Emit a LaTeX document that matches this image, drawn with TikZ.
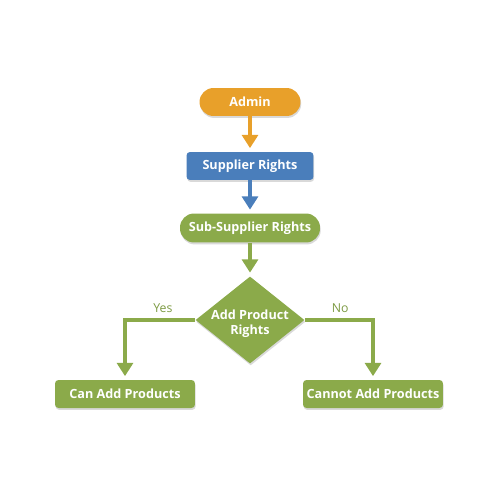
\documentclass[tikz,border=0pt]{standalone}
\usepackage{fontspec}
\setmainfont{Open Sans}
\usetikzlibrary{arrows.meta,shapes.geometric,shadows,positioning}
\definecolor{adminorange}{HTML}{E8A02A}
\definecolor{rightsblue}{HTML}{4A7EBB}
\definecolor{rightsgreen}{HTML}{8BAA4A}
\definecolor{labgreen}{HTML}{7C9A42}
\tikzset{box/.style={text=white, font=\fontsize{7.2}{8.5}\selectfont\bfseries, minimum height=.56cm, inner sep=0pt, drop shadow={shadow xshift=.4pt, shadow yshift=-1.1pt, fill=black!25, opacity=.6}},
  pill/.style={box, rounded corners=.28cm}, flat/.style={box, rounded corners=2pt},
  choice/.style={box, diamond, aspect=1.25, inner sep=-1pt, minimum width=2.18cm, minimum height=1.74cm, fill=rightsgreen},
  flow/.style={-{Triangle[length=7.5pt, width=9pt]}, line width=2pt, shorten >=2pt}, yn/.style={font=\fontsize{7}{8}\selectfont, text=labgreen}}
\begin{document}
\begin{tikzpicture}[x=.02cm, y=-.02cm]
\useasboundingbox (0,0) rectangle (500,500);
\node[pill, fill=adminorange, minimum width=2.02cm] (admin) at (250,102) {Admin};
\node[flat, fill=rightsblue, minimum width=2.54cm] (supplier) at (250,166) {Supplier Rights};
\node[pill, fill=rightsgreen, minimum width=2.8cm, minimum height=.58cm] (subsupplier) at (250,228) {Sub-Supplier Rights};
\node[choice] (addrights) at (250,320) {\raisebox{-2.4pt}[\height][\depth]{\begin{tabular}{@{}c@{}}Add Product\\Rights\end{tabular}}};
\node[flat, fill=rightsgreen, minimum width=2.8cm] (canadd) at (125,394) {Can Add Products};
\node[flat, fill=rightsgreen, minimum width=2.8cm] (cannotadd) at (373,394) {Cannot Add Products};
\draw[flow, adminorange] (admin) -- (supplier); \draw[flow, rightsblue] (supplier) -- (subsupplier);
\draw[flow, rightsgreen] (subsupplier) -- (addrights);
\draw[flow, rightsgreen] (addrights.west) -| node[yn, pos=.23, above] {Yes} (canadd.north);
\draw[flow, rightsgreen] (addrights.east) -| node[yn, pos=.26, above] {No} (cannotadd.north);
\end{tikzpicture}
\end{document}
